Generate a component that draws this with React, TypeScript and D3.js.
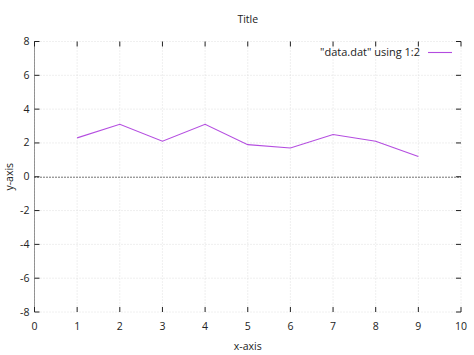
import React from 'react';
import * as d3 from 'd3';

const xs = [1, 2, 3, 4, 5, 6, 7, 8, 9];
const ys = [2.3, 3.1, 2.1, 3.1, 1.9, 1.7, 2.5, 2.1, 1.2];
const xTicks = [0, 1, 2, 3, 4, 5, 6, 7, 8, 9, 10];
const yTicks = [-8, -6, -4, -2, 0, 2, 4, 6, 8];

const W = 474;
const H = 355;
const left = 34.5;
const right = 461;
const top = 41.5;
const bottom = 312;

const App = () => {
  const x = d3.scaleLinear().domain([0, 10]).range([left, right]);
  const y = d3.scaleLinear().domain([-8, 8]).range([bottom, top]);

  const line = d3.line<number>()
    .x((d, i) => x(xs[i]))
    .y(d => y(d));

  const font = '"Open Sans", "Noto Sans", sans-serif';
  const tk = 5;

  return (
    <svg width={W} height={H} style={{ position: 'absolute', left: 0, top: 0, background: '#fff' }}
      fontFamily={font}>
      {/* grid */}
      {xTicks.map(t => (
        <line key={'gx' + t} x1={x(t)} x2={x(t)} y1={top} y2={bottom}
          stroke="#d8d8d8" strokeWidth={0.8} strokeDasharray="1,2" />
      ))}
      {yTicks.map(t => (
        <line key={'gy' + t} x1={left} x2={right} y1={y(t)} y2={y(t)}
          stroke="#d8d8d8" strokeWidth={0.8} strokeDasharray="1,2" />
      ))}
      {/* zero axes */}
      <line x1={left} x2={right} y1={y(0) + 0.5} y2={y(0) + 0.5} stroke="#000" strokeWidth={1} strokeDasharray="1,2" />
      <line x1={x(0)} x2={x(0)} y1={top} y2={bottom} stroke="#333" strokeWidth={1} strokeDasharray="1,1" />
      {/* ticks */}
      {xTicks.map(t => (
        <g key={'tx' + t}>
          <line x1={x(t)} x2={x(t)} y1={bottom} y2={bottom - tk} stroke="#222" />
          <line x1={x(t)} x2={x(t)} y1={top} y2={top + tk} stroke="#222" />
          <text x={x(t)} y={bottom + 18} textAnchor="middle" fontSize={10.5} fill="#222">{t}</text>
        </g>
      ))}
      {yTicks.map(t => (
        <g key={'ty' + t}>
          <line x1={left} x2={left + tk} y1={y(t)} y2={y(t)} stroke="#222" />
          <line x1={right} x2={right - tk} y1={y(t)} y2={y(t)} stroke="#222" />
          <text x={left - 5} y={y(t) + 3.5} textAnchor="end" fontSize={10.5} fill="#222">{t}</text>
        </g>
      ))}
      {/* data */}
      <path d={line(ys) || ''} fill="none" stroke="#9400d3" strokeWidth={1.1} opacity={0.7} />
      {/* legend */}
      <text x={420} y={56} textAnchor="end" fontSize={11} fill="#222">"data.dat" using 1:2</text>
      <line x1={428} x2={452} y1={52.5} y2={52.5} stroke="#9400d3" strokeWidth={1.1} opacity={0.7} />
      {/* labels */}
      <text x={(left + right) / 2} y={23} textAnchor="middle" fontSize={10.5} fill="#222">Title</text>
      <text x={(left + right) / 2} y={350} textAnchor="middle" fontSize={10.5} fill="#222">x-axis</text>
      <text transform={`translate(13,${y(0)}) rotate(-90)`} textAnchor="middle" fontSize={10.5} fill="#222">y-axis</text>
    </svg>
  );
};

export default App;
